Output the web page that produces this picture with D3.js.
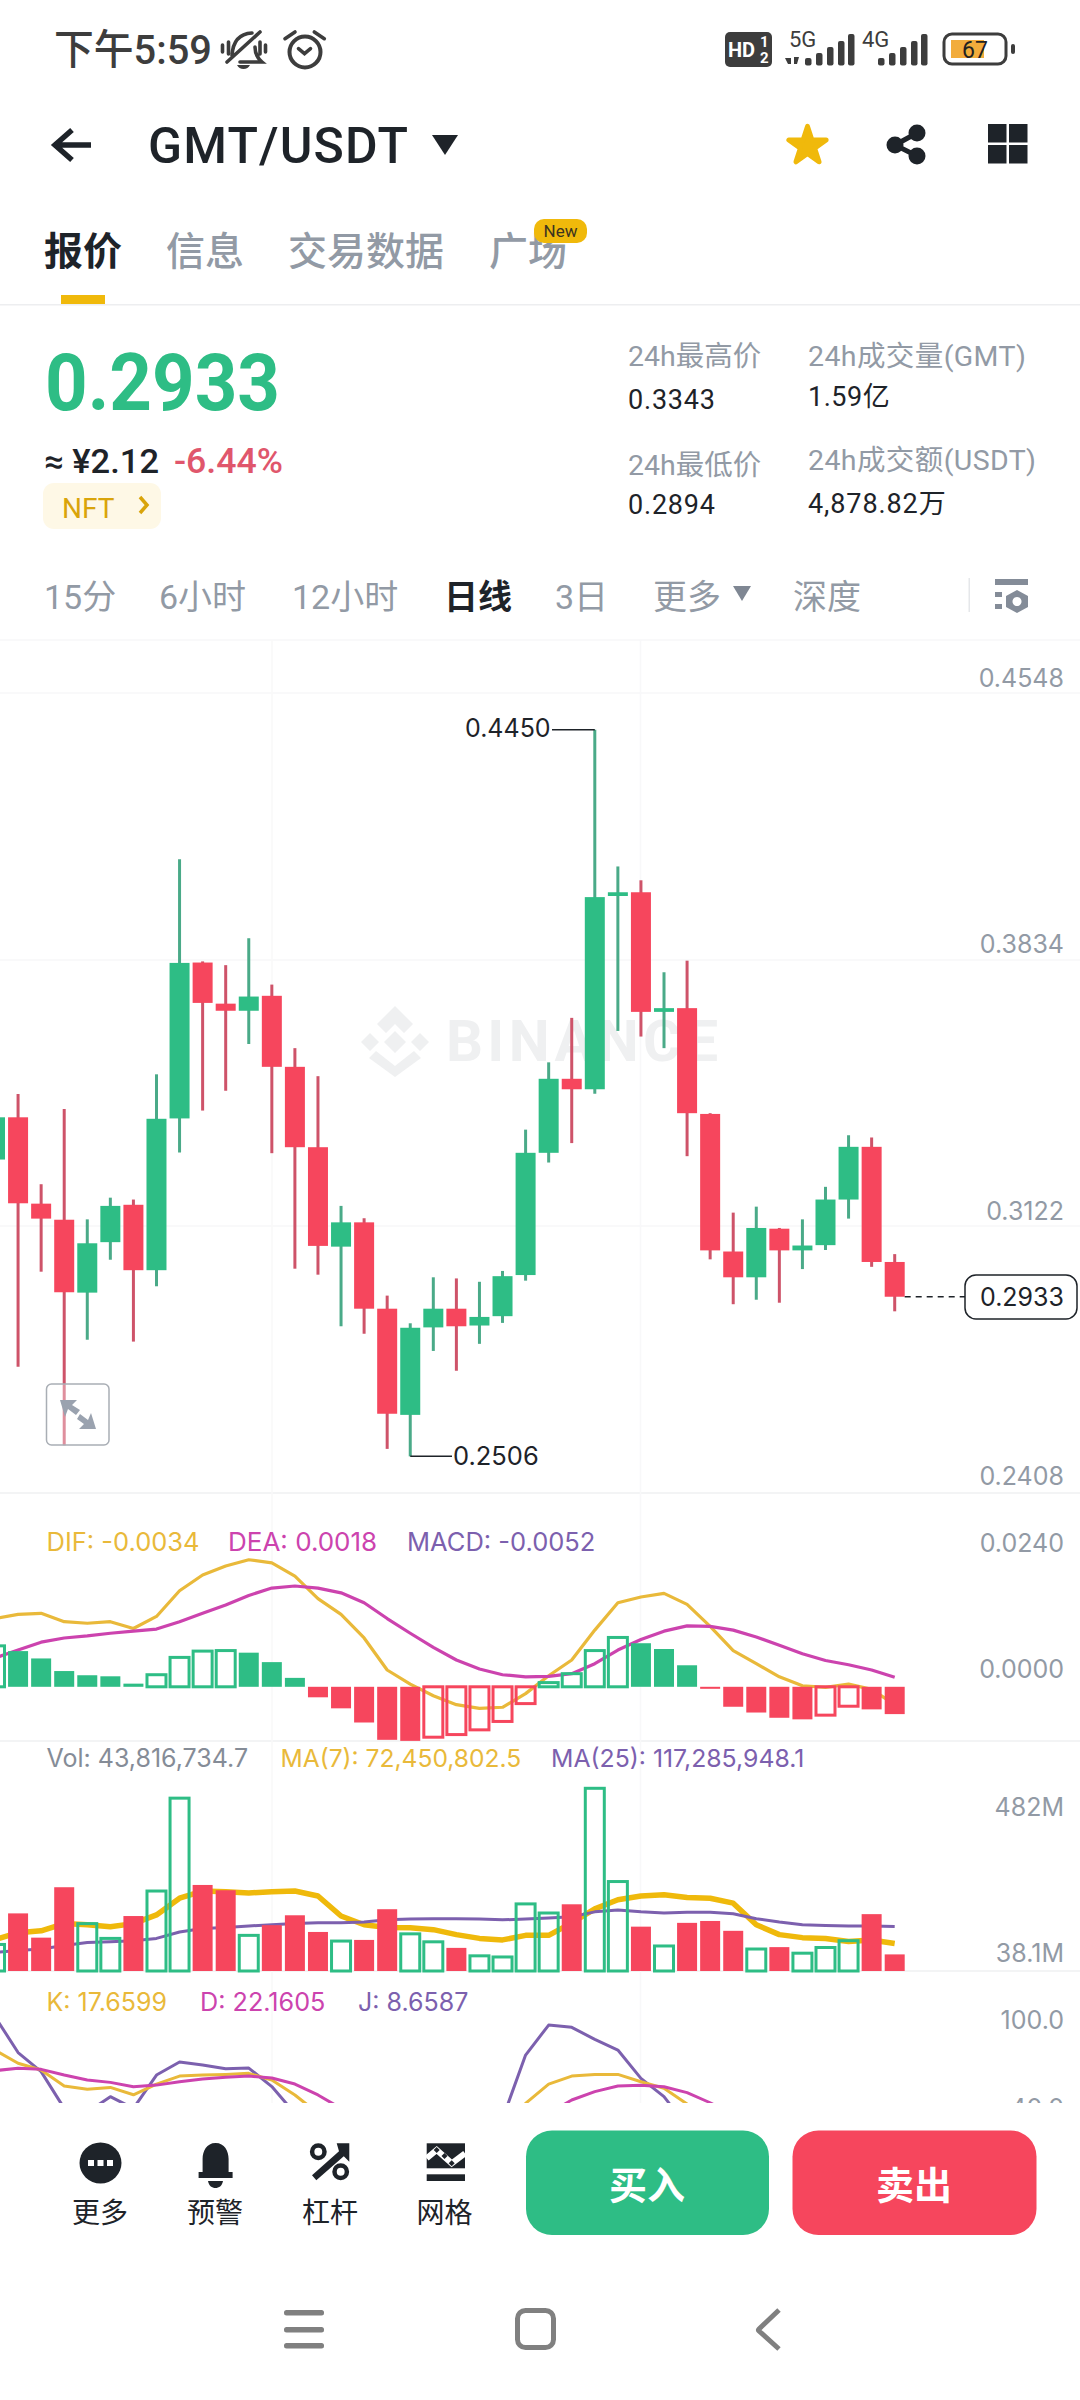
<!DOCTYPE html>
<html><head><meta charset="utf-8">
<script src="https://cdn.jsdelivr.net/npm/d3@7"></script>
<style>html,body{margin:0;background:#fff}svg{display:block}</style></head>
<body><svg id="c" width="1080" height="2400" viewBox="0 0 1080 2400"></svg>
<script>
// ---- data (one entry per daily candle, left to right) ----
const candleOpen=[.3300,.3413,.3182,.3139,.2944,.3079,.3179,.3004,.3410,.3827,.3717,.3698,.3738,.3548,.3333,.3067,.3132,.2901,.2617,.2851,.2901,.2856,.2881,.2991,.3318,.3516,.3488,.4005,.4015,.3695,.3705,.3422,.3054,.2985,.3115,.3057,.3071,.3193,.3334,.3026];
const candleClose=[.3413,.3183,.3142,.2945,.3076,.3176,.3004,.3409,.3826,.3719,.3698,.3736,.3548,.3333,.3069,.3132,.2901,.2620,.2850,.2901,.2854,.2879,.2988,.3318,.3516,.3488,.4002,.4015,.3695,.3705,.3424,.3057,.2985,.3117,.3057,.3070,.3193,.3334,.3026,.2933];
const candleHigh=[.3428,.3475,.3234,.3435,.3140,.3198,.3193,.3528,.4103,.3830,.3820,.3892,.3768,.3598,.3523,.3176,.3143,.2936,.2862,.2985,.2982,.2973,.3002,.3380,.3560,.3679,.4450,.4084,.4047,.3801,.3832,.3424,.3158,.3174,.3117,.3140,.3227,.3365,.3359,.3047];
const candleLow=[.3296,.2746,.3000,.2536,.2818,.3032,.2813,.2961,.3319,.3431,.3484,.3609,.3317,.3008,.2992,.2854,.2834,.2526,.2506,.2788,.2735,.2807,.2863,.2976,.3292,.3344,.3476,.3644,.3629,.3598,.3309,.3033,.2913,.2925,.2917,.3007,.3058,.3142,.3013,.2894];
const macdHist=[.0078,.0068,.0054,.0030,.0022,.0020,.0006,.0023,.0056,.0068,.0069,.0065,.0047,.0017,-.0020,-.0041,-.0068,-.0101,-.0103,-.0096,-.0091,-.0082,-.0066,-.0032,.0008,.0025,.0069,.0094,.0083,.0072,.0041,-.0003,-.0038,-.0049,-.0059,-.0062,-.0054,-.0037,-.0043,-.0052];
const difLine=[.0130,.0138,.0140,.0124,.0121,.0124,.0111,.0134,.0183,.0213,.0230,.0242,.0236,.0211,.0168,.0138,.0093,.0032,.0005,-.0017,-.0034,-.0041,-.0039,-.0013,.0021,.0051,.0108,.0160,.0171,.0178,.0157,.0115,.0069,.0044,.0019,.0002,-.0001,.0005,-.0005,-.0034];
const deaLine=[.0055,.0070,.0085,.0093,.0097,.0102,.0106,.0110,.0124,.0140,.0156,.0174,.0188,.0192,.0188,.0179,.0160,.0130,.0102,.0075,.0051,.0034,.0023,.0019,.0020,.0025,.0044,.0070,.0090,.0106,.0116,.0115,.0108,.0095,.0079,.0063,.0050,.0042,.0032,.0018];
const volumeM=[70,152,88,221,125,86,145,211,456,227,213,94,121,147,103,79,82,163,98,77,61,40,37,177,153,176,482,236,117,66,127,132,106,58,63,47,62,80,150,43.8];
const volMa7=[83,101,106,125,122,117,125,148,192,211,209,206,209,211,198,145,122,115,114,109,96,86,82,94,94,127,164,188,198,201,194,192,179,122,96,88,86,78,82,72.45];
const volMa25=[49,54,58,67,75,77,80,86,103,112,115,119,122,125,127,127,129,135,137,138,138,137,135,137,140,143,156,161,156,153,155,155,151,138,129,122,120,119,119,117.29];
const kLine=[77.6,71.3,68.1,60.5,58.9,59.8,56.3,61.4,65.2,65.7,66.0,66.5,63.3,56.2,47.5,40,33,24,20,22,24,26,36,52.2,61.4,65.2,66.0,66.0,62.5,59.4,51.9,44.3,36,32,28,27,29,34,24,17.66];
const dLine=[67.8,68.9,68.4,65.7,63.3,62.2,60.1,60.9,62.5,63.8,64.6,65.2,64.3,61.4,56.2,49.8,44,37,32,29,27,27,30,37,47.5,53.8,57.8,60.5,60.8,60.1,57.3,52.5,47,42,37,34,32,30,26,22.16];
const jLine=[93.5,76.4,67.3,49.8,48,55.4,49.8,65.7,71.9,70.5,68.7,69.0,60.2,47.4,30,18,10,0,-2,8,15,25,44.8,75.2,89.5,88.4,82.7,77.6,64.1,55.4,41.1,20,14,12,10,22,30,42,20,8.66];
const priceTicks=[.4548,.3834,.3122,.2408];
const macdTicks=[.0240,0];
const volTicks=[482,38.1];
const kdjTicks=[100,40];
const timeframes=[["15分",44,0],["6小时",159,0],["12小时",292,0],["日线",444,1],["3日",555,0],["更多",653,0],["深度",793,0]];
const tabs=[["报价",44,1],["信息",166,0],["交易数据",288,0],["广场",489,0]];
const bottomItems=[["更多",100],["预警",215],["杠杆",330],["网格",444.5]];

const GREEN="#2EBD85",RED="#F6465D",GREEN_W="#4AAA88",RED_W="#CE5369",YEL="#E9B93A",MAG="#CC43AE",PUR="#7C60AE",GRAY="#929AA5",DARK="#1E2329";
const CJK='"Roboto","Noto Sans CJK SC",sans-serif', AX='"Inter","Noto Sans CJK SC",sans-serif';
const svg=d3.select("#c");
svg.append("rect").attr("width",1080).attr("height",2400).attr("fill","#fff");
function T(x,y,s,o={}){return svg.append("text").attr("x",x).attr("y",y).text(s)
  .attr("font-family",o.f||CJK).attr("font-size",o.s||28).attr("font-weight",o.w||400)
  .attr("fill",o.c||DARK).attr("text-anchor",o.a||"start");}
const n=candleOpen.length, idx=d3.range(n);
const x=d3.scaleLinear().domain([0,n-1]).range([-5,894.7]);
const BW=20, yP=d3.scaleLinear().domain([.4548,.2408]).range([693,1493]);
const yM=d3.scaleLinear().domain([.024,0]).range([1560.8,1686.8]);
const yV=d3.scaleLinear().domain([482,0]).range([1788.3,1971]);
const yK=d3.scaleLinear().domain([100,40]).range([2003,2129]);

// grid
const g=svg.append("g").attr("stroke-width",1.5);
[640].concat(priceTicks.slice(0,3).map(yP)).forEach(v=>g.append("line").attr("x1",0).attr("x2",1080).attr("y1",v).attr("y2",v).attr("stroke","#F7F7F8"));
[1493,1741,1971].forEach(v=>g.append("line").attr("x1",0).attr("x2",1080).attr("y1",v).attr("y2",v).attr("stroke","#EFF0F2"));
[272,640.5].forEach(v=>g.append("line").attr("x1",v).attr("x2",v).attr("y1",640).attr("y2",2103).attr("stroke","#F8F8F9"));

// watermark
const wm=svg.append("g").attr("fill","#EFF0F1");
wm.append("path").attr("fill-rule","evenodd").attr("d","M395 1006l18 18-9 9-9-9-9 9-9-9zM370 1033l9 9-9 9-9-9zM420 1033l9 9-9 9-9-9zM395 1031l11 11-11 11-11-11zM376 1051l19 15 19-15 7 7-26 19-26-19z");
T(446,1061,"BINANCE",{s:58,w:700,c:"#EFF0F1",f:'"Roboto",sans-serif'}).attr("textLength",272);

// candles
const cg=svg.append("g");
idx.forEach(i=>{const up=candleClose[i]>=candleOpen[i];
  cg.append("line").attr("x1",x(i)).attr("x2",x(i)).attr("y1",yP(candleHigh[i])).attr("y2",yP(candleLow[i])).attr("stroke",up?GREEN_W:RED_W).attr("stroke-width",3);
  const a=yP(Math.max(candleOpen[i],candleClose[i])),b=yP(Math.min(candleOpen[i],candleClose[i]));
  cg.append("rect").attr("x",x(i)-BW/2).attr("width",BW).attr("y",a).attr("height",Math.max(b-a,2)).attr("fill",up?GREEN:RED);
});
function axisFor(scale,ticks,fmt,offs,size){
  const a=svg.append("g").attr("transform","translate(1064,0)").call(d3.axisLeft(scale).tickValues(ticks).tickSize(0).tickPadding(0).tickFormat(fmt));
  a.select(".domain").remove();
  a.selectAll("text").attr("font-family",AX).attr("font-size",size||25).attr("fill",GRAY).attr("text-anchor","end").attr("x",0).attr("dy",0).attr("y",(d,i)=>offs[i]+9);
}
axisFor(yP,priceTicks,d3.format(".4f"),[-16,-16,-16,-18]);

// price call-outs
const co=svg.append("g").attr("stroke",DARK).attr("stroke-width",1.5).attr("fill","none");
co.append("path").attr("d",`M552 ${yP(.445)}H${x(26)}`);
co.append("path").attr("d",`M${x(18)} ${yP(.2506)}H452`);
co.append("path").attr("stroke-dasharray","6 5").attr("d",`M${x(39)+10} ${yP(.2933)}H965`);
co.append("rect").attr("x",965).attr("y",1275).attr("width",112).attr("height",44).attr("rx",11).attr("fill","#fff");
T(465,737,"0.4450",{f:AX,s:25});T(453,1465,"0.2506",{f:AX,s:25.5});
T(1064,1306,"0.2933",{f:AX,s:25,a:"end"});

// expand button
svg.append("rect").attr("x",46.5).attr("y",1384).attr("width",62.5).attr("height",61).attr("rx",5).attr("fill","#fff").attr("fill-opacity",.35).attr("stroke","#A9AEB5").attr("stroke-width",1.5);
svg.append("path").attr("fill","#9AA2AF").attr("d","M60 1400h17l-5 5 8 5-4 5-8-6-3 8zM96 1429H79l5-5-7-5 3-5 8 6 3-7z");

// MACD panel
const line=(s)=>d3.line().x((d,i)=>x(i)).y(d=>s(d));
const L=(s,arr,c,w)=>svg.append("path").attr("d",line(s)(arr)).attr("fill","none").attr("stroke",c).attr("stroke-width",w).attr("stroke-linejoin","round");
L(yM,difLine,YEL,3.2);L(yM,deaLine,MAG,3.2);
idx.forEach(i=>{const v=macdHist[i],pos=v>=0,c=pos?GREEN:RED,hollow=i===0||v>macdHist[i-1];
  const a=yM(Math.max(v,0)),b=yM(Math.min(v,0));
  const r=svg.append("rect").attr("y",a);
  if(hollow) r.attr("x",x(i)-BW/2+.5).attr("width",BW-1).attr("height",b-a).attr("fill","none").attr("stroke",c).attr("stroke-width",3);
  else r.attr("x",x(i)-BW/2).attr("width",BW).attr("height",Math.max(b-a,2)).attr("fill",c);
});
T(46.5,1551,"DIF: -0.0034",{f:AX,s:25.5,c:YEL});T(228,1551,"DEA: 0.0018",{f:AX,s:26,c:MAG});T(407,1551,"MACD: -0.0052",{f:AX,s:25.5,c:PUR});
axisFor(yM,macdTicks,d3.format(".4f"),[-18,-18]);

// Volume panel
L(yV,volMa7,"#EFB90B",5.5);L(yV,volMa25,PUR,3);
idx.forEach(i=>{const up=candleClose[i]>=candleOpen[i],a=yV(volumeM[i]),b=yV(0);
  const r=svg.append("rect").attr("y",a);
  if(up) r.attr("x",x(i)-BW/2+.5).attr("width",BW-1).attr("height",b-a).attr("fill","none").attr("stroke",GREEN).attr("stroke-width",3);
  else r.attr("x",x(i)-BW/2).attr("width",BW).attr("height",b-a).attr("fill",RED);
});
T(46.5,1767,"Vol: 43,816,734.7",{f:AX,s:25,c:"#858C97"});T(280.5,1767,"MA(7): 72,450,802.5",{f:AX,s:24.6,c:YEL});T(551,1767,"MA(25): 117,285,948.1",{f:AX,s:24.8,c:PUR});
axisFor(yV,volTicks,d=>d===482?"482M":"38.1M",[18.7,-4]);

// KDJ panel
L(yK,jLine,PUR,3);L(yK,kLine,YEL,3);L(yK,dLine,MAG,3);
T(46.5,2011,"K: 17.6599",{f:AX,s:25,c:YEL});T(200,2011,"D: 22.1605",{f:AX,s:25.2,c:MAG});T(358,2011,"J: 8.6587",{f:AX,s:25,c:PUR});
axisFor(yK,kdjTicks,d3.format(".1f"),[16,-22]);

// footer covers the clipped KDJ panel
svg.append("rect").attr("y",2103).attr("width",1080).attr("height",297).attr("fill","#fff");
const icon=svg.append("g").attr("fill",DARK);
icon.append("ellipse").attr("cx",100.5).attr("cy",2163).attr("rx",21).attr("ry",20.5);
[91,100.5,110].forEach(v=>icon.append("rect").attr("x",v-3).attr("y",2160).attr("width",6).attr("height",6).attr("fill","#fff"));
icon.append("path").attr("d","M215.6 2143c-9 0-13 8-13 16v13h-4v6h34v-6h-4v-13c0-8-4-16-13-16zM208 2181h15c-1 5-4 7-7.500 7s-6.500-2-7.500-7z");
// leverage icon
icon.append("path").attr("d","M336.700 2143.300h12.600v18.400l-5.500-5.500-27.500 24-4.300-5 27-24z");
icon.append("circle").attr("cx",318.3).attr("cy",2151.7).attr("r",6.2).attr("fill","none").attr("stroke",DARK).attr("stroke-width",4.5);
icon.append("circle").attr("cx",340.7).attr("cy",2171.7).attr("r",6.2).attr("fill","none").attr("stroke",DARK).attr("stroke-width",4.5);
// grid icon
icon.append("rect").attr("x",426.7).attr("y",2143.3).attr("width",38.3).attr("height",25);
icon.append("rect").attr("x",426.7).attr("y",2174.3).attr("width",38.3).attr("height",6.7);
icon.append("path").attr("d","M426.700 2158.300L436.700 2150L451.700 2163.300L465 2153.300").attr("fill","none").attr("stroke","#fff").attr("stroke-width",6);
[[436.7,2150],[444.5,2156],[451.7,2163.3]].forEach(p=>icon.append("path").attr("d",`M${p[0]} ${p[1]-3}l3 3-3 3-3-3z`));
bottomItems.forEach(d=>T(d[1],2223,d[0],{s:28,a:"middle",c:DARK,f:'"Noto Sans CJK SC",sans-serif'}));
svg.append("rect").attr("x",526).attr("y",2130.5).attr("width",243).attr("height",104.5).attr("rx",26).attr("fill",GREEN);
svg.append("rect").attr("x",792.5).attr("y",2130.5).attr("width",244).attr("height",104.5).attr("rx",26).attr("fill",RED);
T(647,2199,"买入",{s:38,w:700,c:"#fff",a:"middle",f:'"Noto Sans CJK SC",sans-serif'});
T(914,2199,"卖出",{s:38,w:700,c:"#fff",a:"middle",f:'"Noto Sans CJK SC",sans-serif'});
// nav bar
const nav=svg.append("g").attr("fill","#808080");
[2310,2327,2343].forEach(v=>nav.append("rect").attr("x",284).attr("y",v).attr("width",40).attr("height",5.500).attr("rx",2.5));
svg.append("rect").attr("x",517.5).attr("y",2310.5).attr("width",36).attr("height",37).attr("rx",8).attr("fill","none").attr("stroke","#808080").attr("stroke-width",5);
svg.append("path").attr("d","M779 2310l-20 19q-1 1 0 2l20 18").attr("fill","none").attr("stroke","#808080").attr("stroke-width",5);

// status bar
T(54,64,"下午5:59",{s:41,w:500,c:"#3D3D3D",f:'"Roboto","Noto Sans CJK SC",sans-serif'}).attr("textLength",158).attr("lengthAdjust","spacingAndGlyphs");
const st=svg.append("g").attr("fill","none").attr("stroke","#3D3D3D").attr("stroke-width",3.6).attr("stroke-linecap","round");
st.append("path").attr("d","M232 56q1-22 20-23M255 47q0 9 7 15H240M227 62L260 32M222.500 45v7M228.500 42v12M260 42v12M265.500 45v7");
svg.append("path").attr("fill","#3D3D3D").attr("d","M237 65h13q-2 4-6.500 4t-6.500-4z");
st.append("circle").attr("cx",305).attr("cy",52).attr("r",15.5).attr("stroke-width",4);
st.append("path").attr("d","M285 38.700l10-6.700M314.300 32l10 6.700M298.500 48.700l6 5 6-5");
svg.append("rect").attr("x",725).attr("y",32).attr("width",47).attr("height",35).attr("rx",5).attr("fill","#3D3D3D");
T(728,57,"HD",{s:20,w:700,c:"#fff",f:'"Roboto",sans-serif'});
T(760,47,"1",{s:15,w:700,c:"#fff",f:'"Roboto",sans-serif'});T(760,63,"2",{s:15,w:700,c:"#fff",f:'"Roboto",sans-serif'});
T(789,47,"5G",{s:22,c:"#3D3D3D",f:'"Roboto",sans-serif'});T(862,47,"4G",{s:22,c:"#3D3D3D",f:'"Roboto",sans-serif'});
const sb=svg.append("g").attr("fill","#3D3D3D");
[[805,58],[816,53],[827,47],[838,41],[848,34]].forEach(b=>sb.append("rect").attr("x",b[0]).attr("y",b[1]).attr("width",6.5).attr("height",65.5-b[1]).attr("rx",2));
[[878,58],[889,53],[900,47],[911,41],[921,34]].forEach(b=>sb.append("rect").attr("x",b[0]).attr("y",b[1]).attr("width",6.5).attr("height",65.5-b[1]).attr("rx",2));
sb.append("path").attr("d","M785 58h6v6h-3zM794 64v-7h5l-2 7z");
svg.append("rect").attr("x",944).attr("y",34).attr("width",62).attr("height",30).attr("rx",8).attr("fill","#fff").attr("stroke","#3D3D3D").attr("stroke-width",3);
svg.append("rect").attr("x",951).attr("y",40).attr("width",33).attr("height",18).attr("fill","#F2AC3C");
svg.append("rect").attr("x",1011).attr("y",44).attr("width",4).attr("height",10).attr("rx",2).attr("fill","#3D3D3D");
T(975,58,"67",{s:23,c:"#222",a:"middle",f:'"Roboto",sans-serif'});

// header
svg.append("path").attr("d","M91 145H56M72 130L55 145l17 15").attr("fill","none").attr("stroke",DARK).attr("stroke-width",5.500);
T(148,163,"GMT/USDT",{s:50,w:500,f:'"Roboto",sans-serif'}).attr("textLength",260);
svg.append("path").attr("d","M432 135h26l-13 20z").attr("fill",DARK);
svg.append("path").attr("transform","translate(807.5,146)").attr("d",d3.symbol(d3.symbolStar,430)()).attr("fill","#F0B90B").attr("stroke","#F0B90B").attr("stroke-width",5).attr("stroke-linejoin","round");
const sh=svg.append("g").attr("fill",DARK).attr("stroke",DARK);
sh.append("path").attr("d","M917 133L895 145L917 156").attr("stroke-width",5).attr("fill","none");
[[917,133],[895,145],[917,156]].forEach(p=>sh.append("circle").attr("cx",p[0]).attr("cy",p[1]).attr("r",8.5).attr("stroke","none"));
[[988,124],[1009,124],[988,145],[1009,145]].forEach(p=>svg.append("rect").attr("x",p[0]).attr("y",p[1]).attr("width",18.500).attr("height",18.500).attr("fill",DARK));

// tabs
tabs.forEach(d=>T(d[1],265,d[0],{s:39,w:d[2]?700:500,c:d[2]?DARK:GRAY,f:'"Noto Sans CJK SC",sans-serif'}));
svg.append("rect").attr("x",534).attr("y",219).attr("width",53).attr("height",24).attr("rx",10).attr("fill","#F0B90B");
T(560.5,237,"New",{s:17,a:"middle",c:"#3b3320",f:'"Roboto",sans-serif'});
svg.append("rect").attr("x",61).attr("y",295).attr("width",44).attr("height",9).attr("fill","#F0B90B");
svg.append("rect").attr("x",0).attr("y",304).attr("width",1080).attr("height",1.5).attr("fill","#EDEEF0");

// price block
T(45,410,"0.2933",{s:80,w:700,c:GREEN,f:'"Roboto",sans-serif'}).attr("textLength",235).attr("lengthAdjust","spacingAndGlyphs");
T(44,473,"≈ ¥2.12",{s:34,w:500,f:'"Roboto",sans-serif'}).attr("textLength",115).attr("lengthAdjust","spacingAndGlyphs");
T(174,473,"-6.44%",{s:35,w:500,c:"#E0566C",f:'"Roboto",sans-serif'}).attr("textLength",109).attr("lengthAdjust","spacingAndGlyphs");
svg.append("rect").attr("x",43).attr("y",483).attr("width",118).attr("height",46).attr("rx",11).attr("fill","#FEF8E6");
T(62,518,"NFT",{s:28,c:"#D9A40B",f:'"Roboto",sans-serif'});
svg.append("path").attr("d","M140 497l7 8-7 8").attr("fill","none").attr("stroke","#D9A40B").attr("stroke-width",3.500);
const CS={s:28.5,c:GRAY,f:'"Roboto","Noto Sans CJK SC",sans-serif'};
T(628,366,"24h最高价",CS);T(808,366,"24h成交量(GMT)",CS).attr("letter-spacing",.4);T(628,475,"24h最低价",CS);T(808,470,"24h成交额(USDT)",CS).attr("letter-spacing",.4);
const VS={s:27,c:DARK,f:'"Roboto","Noto Sans CJK SC",sans-serif'};
T(628,409,"0.3343",VS).attr("letter-spacing",.8);T(808,406,"1.59亿",VS).attr("letter-spacing",.5);T(628,514,"0.2894",VS).attr("letter-spacing",.8);T(808,513,"4,878.82万",VS).attr("letter-spacing",.9);

// timeframe row
timeframes.forEach(d=>T(d[1],609,d[0],{s:34,w:d[2]?700:400,c:d[2]?DARK:GRAY,f:'"Roboto","Noto Sans CJK SC",sans-serif'}));
svg.append("path").attr("d","M733 586h18l-9 15z").attr("fill","#7F8793");
svg.append("rect").attr("x",968.5).attr("y",578).attr("width",1.5).attr("height",34).attr("fill","#E5E7EA");
const ti=svg.append("g").attr("fill","#848C98");
ti.append("rect").attr("x",995).attr("y",579).attr("width",33).attr("height",6);
ti.append("rect").attr("x",995).attr("y",592).attr("width",7).attr("height",5);
ti.append("rect").attr("x",995).attr("y",604).attr("width",7).attr("height",5);
ti.append("path").attr("fill-rule","evenodd").attr("d","M1017 590l11 6v11l-11 6-11-6v-11zM1017 597a4.500 4.500 0 1 0 .01 0z");
</script></body></html>
